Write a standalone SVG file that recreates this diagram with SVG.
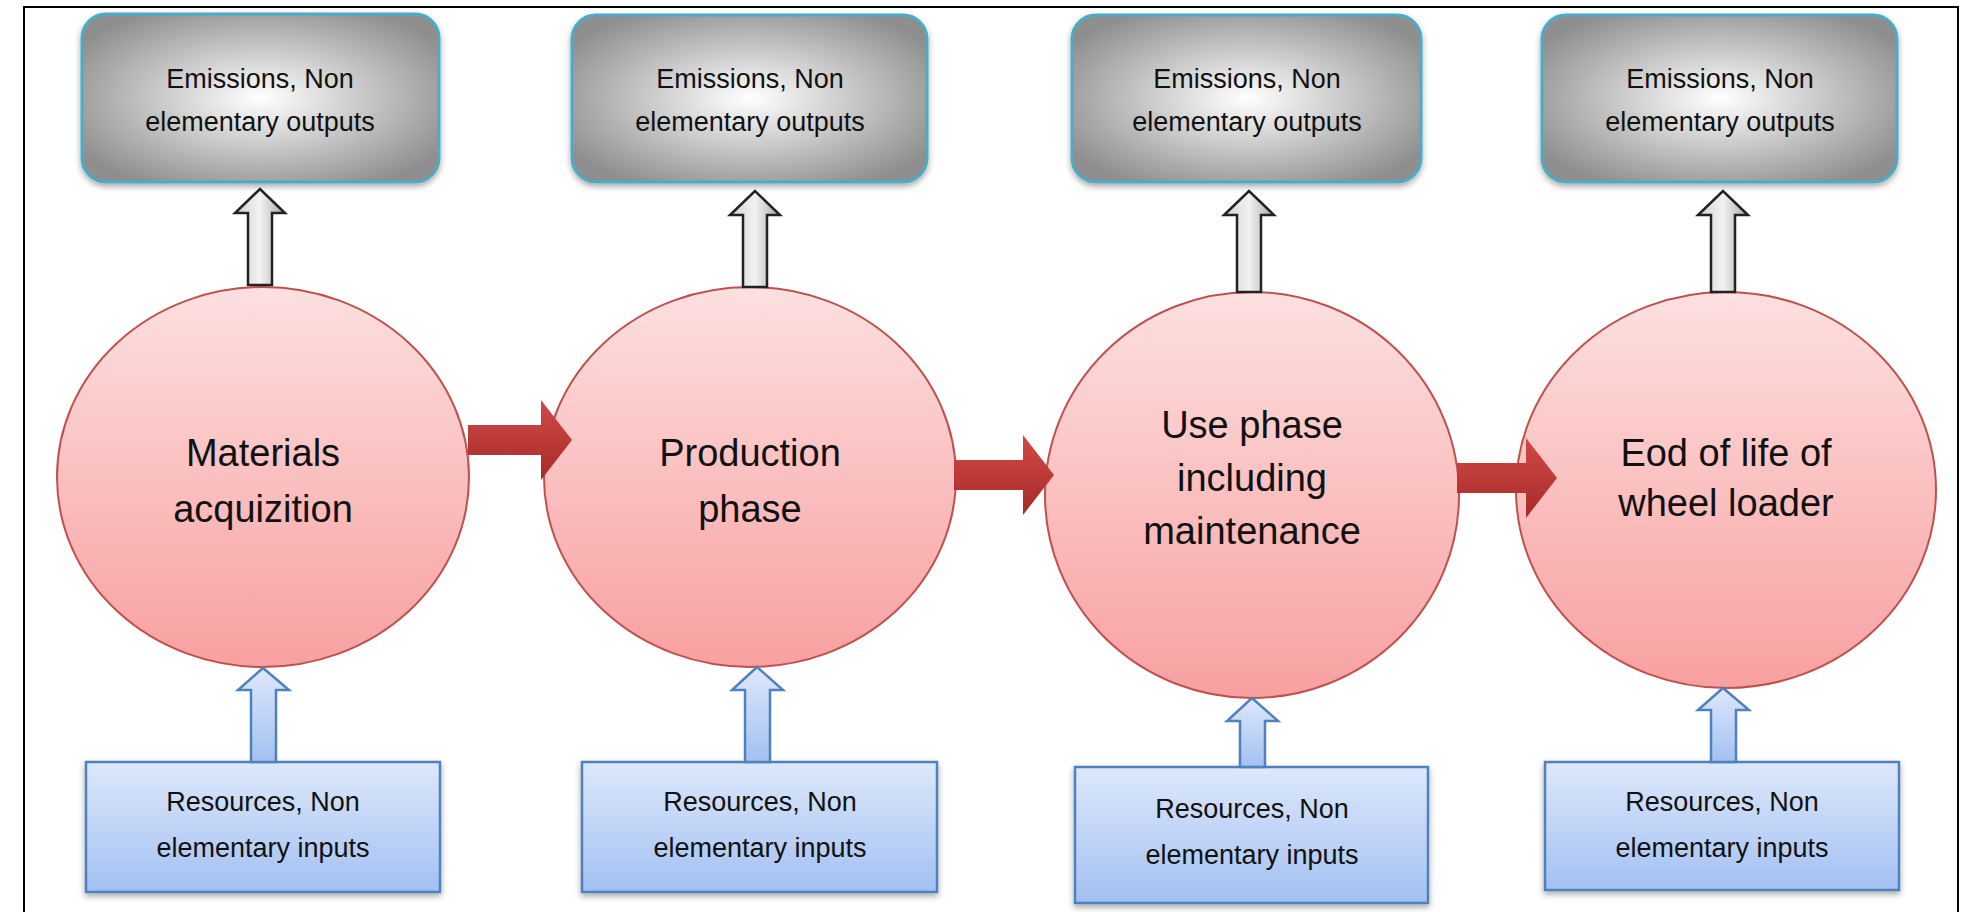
<svg xmlns="http://www.w3.org/2000/svg" width="1968" height="912" viewBox="0 0 1968 912">
<defs>
<radialGradient id="gg" cx="50%" cy="50%" r="60%"><stop offset="0" stop-color="#ffffff"/><stop offset="1" stop-color="#8e8e8e"/></radialGradient>
<linearGradient id="rg" x1="0" y1="0" x2="0" y2="1"><stop offset="0" stop-color="#fde0e0"/><stop offset="1" stop-color="#f8a0a0"/></linearGradient>
<linearGradient id="bg" x1="0" y1="0" x2="0" y2="1"><stop offset="0" stop-color="#dde8fb"/><stop offset="1" stop-color="#a3c0f2"/></linearGradient>
<linearGradient id="ga" x1="0" y1="0" x2="1" y2="0"><stop offset="0" stop-color="#d0d0d0"/><stop offset="0.5" stop-color="#f2f2f2"/><stop offset="1" stop-color="#a8a8a8"/></linearGradient>
<linearGradient id="ra" x1="0" y1="0" x2="0" y2="1"><stop offset="0" stop-color="#d04a47"/><stop offset="1" stop-color="#a82a28"/></linearGradient>
<filter id="sh" x="-10%" y="-10%" width="120%" height="130%"><feDropShadow dx="0" dy="3" stdDeviation="3" flood-opacity="0.35"/></filter>
</defs>
<style>
.t{font-family:"Liberation Sans",Arial,sans-serif;font-size:27px;fill:#111;text-anchor:middle}
.c{font-family:"Liberation Sans",Arial,sans-serif;font-size:38px;fill:#111;text-anchor:middle}
.gb{fill:url(#gg);stroke:#4bacc6;stroke-width:3;filter:url(#sh)}
.bb{fill:url(#bg);stroke:#4f81bd;stroke-width:2.5;filter:url(#sh)}
.ci{fill:url(#rg);stroke:#c0504d;stroke-width:2}
.ga{fill:url(#ga);stroke:#222;stroke-width:2.5}
.ba{fill:url(#bg);stroke:#4f81bd;stroke-width:2.5}
.ra{fill:url(#ra)}
</style>
<rect x="24" y="7" width="1934" height="920" fill="#fff" stroke="#000" stroke-width="2"/>
<g id="out1"><rect class="gb" x="82" y="14" width="357" height="168" rx="24"/><text class="t" x="260" y="88">Emissions, Non</text><text class="t" x="260" y="131">elementary outputs</text></g>
<g id="out2"><rect class="gb" x="572" y="15" width="355" height="167" rx="24"/><text class="t" x="750" y="88">Emissions, Non</text><text class="t" x="750" y="131">elementary outputs</text></g>
<g id="out3"><rect class="gb" x="1072" y="15" width="349" height="167" rx="24"/><text class="t" x="1247" y="88">Emissions, Non</text><text class="t" x="1247" y="131">elementary outputs</text></g>
<g id="out4"><rect class="gb" x="1542" y="15" width="355" height="167" rx="24"/><text class="t" x="1720" y="88">Emissions, Non</text><text class="t" x="1720" y="131">elementary outputs</text></g>
<g id="phase1"><ellipse class="ci" cx="263" cy="477" rx="206" ry="190"/><text class="c" x="263" y="466">Materials</text><text class="c" x="263" y="522">acquizition</text></g>
<g id="phase2"><ellipse class="ci" cx="750" cy="477" rx="206" ry="190"/><text class="c" x="750" y="466">Production</text><text class="c" x="750" y="522">phase</text></g>
<g id="phase3"><ellipse class="ci" cx="1252" cy="495" rx="207" ry="203"/><text class="c" x="1252" y="438">Use phase</text><text class="c" x="1252" y="491">including</text><text class="c" x="1252" y="544">maintenance</text></g>
<g id="phase4"><ellipse class="ci" cx="1726" cy="490" rx="210" ry="198"/><text class="c" x="1726" y="466">Eod of life of</text><text class="c" x="1726" y="516">wheel loader</text></g>
<g id="in1"><rect class="bb" x="86" y="762" width="354" height="130"/><text class="t" x="263" y="811">Resources, Non</text><text class="t" x="263" y="857">elementary inputs</text></g>
<g id="in2"><rect class="bb" x="582" y="762" width="355" height="130"/><text class="t" x="760" y="811">Resources, Non</text><text class="t" x="760" y="857">elementary inputs</text></g>
<g id="in3"><rect class="bb" x="1075" y="767" width="353" height="136"/><text class="t" x="1252" y="818">Resources, Non</text><text class="t" x="1252" y="864">elementary inputs</text></g>
<g id="in4"><rect class="bb" x="1545" y="762" width="354" height="128"/><text class="t" x="1722" y="811">Resources, Non</text><text class="t" x="1722" y="857">elementary inputs</text></g>
<g id="connectors">
<path class="ga" d="M248,285 V213 H235 L260,189 L285,213 H272 V285 Z"/>
<path class="ga" d="M743,287 V215 H730 L755,191 L780,215 H767 V287 Z"/>
<path class="ga" d="M1237,292 V215 H1224 L1249,191 L1274,215 H1261 V292 Z"/>
<path class="ga" d="M1711,292 V215 H1698 L1723,191 L1748,215 H1735 V292 Z"/>
<path class="ba" d="M251,762 V690 H238 L263,668 L289,690 H276 V762 Z"/>
<path class="ba" d="M745,762 V690 H732 L757,667 L783,690 H770 V762 Z"/>
<path class="ba" d="M1240,767 V721 H1227 L1252,698 L1278,721 H1265 V767 Z"/>
<path class="ba" d="M1711,762 V710 H1698 L1723,688 L1749,710 H1736 V762 Z"/>
<path class="ra" d="M468,425 H541 V400 L572,440 L541,480 V455 H468 Z"/>
<path class="ra" d="M954,460 H1023 V435 L1054,475 L1023,515 V490 H954 Z"/>
<path class="ra" d="M1457,463 H1526 V438 L1557,478 L1526,518 V493 H1457 Z"/>
</g>
</svg>
